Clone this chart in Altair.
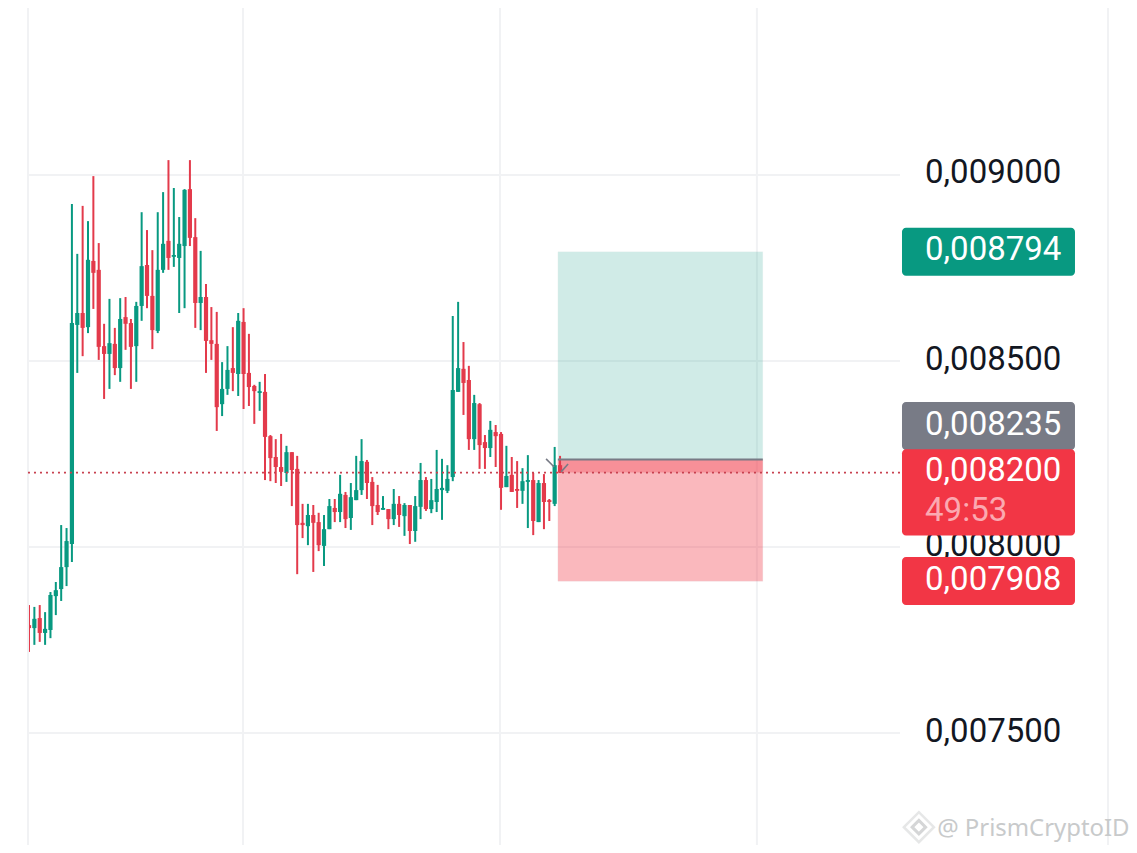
import altair as alt
import pandas as pd

# prices in millionths (8200 = 0,008200)
opens = [7790,7782,7809,7769,7777,7868,7887,7946,8008,8597,8629,8591,8769,8745,8540,8519,8546,8481,8618,8602,
         8540,8648,8758,8675,8581,8745,8823,8780,8777,8809,8962,8833,8656,8672,8556,8546,8384,8425,8481,8465,
         8605,8468,8433,8414,8417,8298,8242,8215,8199,8255,8210,8065,8056,8086,8067,8003,8048,8105,8094,8140,
         8078,8126,8153,8229,8175,8113,8100,8102,8075,8116,8083,8113,8043,8108,8180,8102,8121,8153,8151,8188,
         8417,8479,8449,8290,8384,8282,8266,8309,8304,8161,8194,8156,8151,8175,8180,8067,8172,8126,8116,8220]
closes = [7782,7807,7769,7780,7871,7884,7946,8016,8602,8629,8589,8772,8737,8538,8519,8548,8481,8613,8600,8538,
          8648,8755,8675,8583,8745,8815,8777,8785,8815,8960,8831,8656,8672,8554,8546,8376,8425,8476,8468,8608,
          8465,8430,8419,8419,8296,8239,8215,8202,8255,8207,8059,8059,8086,8065,8005,8048,8110,8094,8143,8075,
          8134,8153,8231,8172,8110,8094,8105,8075,8116,8086,8113,8043,8110,8180,8102,8126,8156,8159,8183,8422,
          8481,8441,8290,8387,8274,8266,8315,8298,8159,8191,8148,8151,8177,8180,8070,8172,8121,8121,8220,8200]
highs = [7844,7839,7844,7825,7879,7906,8059,8051,8922,8788,8917,8876,8997,8817,8600,8667,8589,8669,8672,8613,
         8659,8900,8852,8798,8900,8954,9040,8965,8887,8962,9040,8884,8796,8707,8645,8632,8497,8540,8591,8629,
         8642,8573,8436,8444,8465,8301,8290,8304,8272,8255,8245,8116,8116,8113,8092,8086,8129,8129,8194,8148,
         8172,8245,8290,8234,8188,8167,8137,8102,8156,8137,8118,8113,8137,8226,8188,8183,8261,8237,8220,8621,
         8659,8551,8487,8409,8387,8301,8339,8328,8309,8272,8242,8231,8212,8247,8199,8180,8196,8129,8269,8245]
lows = [7718,7737,7745,7737,7755,7817,7855,7895,7960,8468,8513,8575,8640,8503,8398,8425,8462,8444,8530,8425,
        8444,8608,8642,8532,8575,8737,8745,8753,8629,8642,8809,8589,8583,8468,8503,8312,8352,8409,8419,8406,
        8371,8379,8331,8366,8180,8177,8172,8164,8175,8110,7927,8024,8005,7933,7989,7949,8048,8067,8067,8051,
        8046,8126,8140,8129,8059,8086,8100,8048,8059,8054,8030,8008,8014,8075,8097,8091,8094,8073,8145,8177,
        8417,8355,8261,8261,8210,8210,8242,8215,8100,8161,8148,8105,8116,8051,8032,8067,8048,8070,8110,8199]

grid_prices = [9000, 8500, 8000, 7500]
grid_labels = ["0,009000", "0,008500", "0,008000", "0,007500"]
grid_times = [-0.19, 39.9, 87.8, 135.7, 201.15]

tp_price, entry_price, last_price, sl_price = 8794, 8235, 8200, 7908
tag_low = [8729, 8261, 8031, 7844]
tag_high = [8858, 8390, 8263, 7973]
tag_colors = ["#089981", "#787B86", "#F23645", "#F23645"]
tag_labels = ["0,008794", "0,008235", "0,008200", "0,007908"]
tag_text_y = [8794, 8325, 8200, 7908]

UP, DOWN, GRID = "#089981", "#E33A4B", "#F1F2F4"
X_DOM = [-3.915, 205.07]
Y_DOM = [7199.0, 9448.9]
xs = alt.Scale(domain=X_DOM, nice=False, zero=False)
ys = alt.Scale(domain=Y_DOM, nice=False, zero=False)
X = lambda f="x": alt.X(f"{f}:Q", scale=xs, axis=None)
Y = lambda f="y": alt.Y(f"{f}:Q", scale=ys, axis=None)
AXIS_L, PANE_R, LABEL_X = -0.19, 162.38, 167.05
BOX_L, BOX_R = 98.6, 136.8
TAG_L, TAG_R = 162.75, 195.0
TEXT_DY, TEXT_SIZE = -1.5, 33

candles = pd.DataFrame({"i": range(len(opens)), "o": opens, "c": closes, "h": highs, "l": lows})
candles["col"] = [UP if c >= o else DOWN for o, c in zip(opens, closes)]

vgrid = alt.Chart(pd.DataFrame({"x": grid_times})).mark_rule(color=GRID, strokeWidth=2).encode(x=X())
hgrid = alt.Chart(pd.DataFrame({"y": grid_prices, "a": AXIS_L, "b": PANE_R})).mark_rule(color=GRID, strokeWidth=2).encode(
    x=X("a"), x2="b:Q", y=Y())

box_df = pd.DataFrame({"a": [BOX_L, BOX_L, BOX_L], "b": [BOX_R, BOX_R, BOX_R],
                       "lo": [entry_price, sl_price, last_price], "hi": [tp_price, entry_price, entry_price],
                       "col": ["#089981", "#F23645", "#F23645"], "op": [0.185, 0.35, 0.3]})
boxes = alt.Chart(box_df).mark_rect(stroke="#999999", strokeWidth=0.5, strokeOpacity=0.3).encode(
    x=X("a"), x2="b:Q", y=Y("lo"), y2="hi:Q",
    color=alt.Color("col:N", scale=None), opacity=alt.Opacity("op:Q", scale=None))
entry_line = alt.Chart(pd.DataFrame({"a": [BOX_L], "b": [BOX_R], "y": [entry_price]})).mark_rule(
    color="#787B86", strokeWidth=2).encode(x=X("a"), x2="b:Q", y=Y())

wicks = alt.Chart(candles).mark_rule(strokeWidth=2).encode(
    x=X("i"), y=Y("l"), y2="h:Q", color=alt.Color("col:N", scale=None))
bodies = alt.Chart(candles).mark_rule(strokeWidth=4.2).encode(
    x=X("i"), y=Y("o"), y2="c:Q", color=alt.Color("col:N", scale=None))

mask = alt.Chart(pd.DataFrame({"a": [X_DOM[0]], "b": [AXIS_L - 0.1], "lo": [Y_DOM[0]], "hi": [Y_DOM[1]]})).mark_rect(
    color="white").encode(x=X("a"), x2="b:Q", y=Y("lo"), y2="hi:Q")
edge = alt.Chart(pd.DataFrame({"x": [AXIS_L]})).mark_rule(color=GRID, strokeWidth=2).encode(x=X())

last_line = alt.Chart(pd.DataFrame({"a": [AXIS_L], "b": [PANE_R], "y": [last_price]})).mark_rule(
    color="#C8404F", strokeWidth=1.6, strokeDash=[2, 4]).encode(x=X("a"), x2="b:Q", y=Y())

arrow = alt.Chart(pd.DataFrame({"x": [96.4, 97.9, 99.2, 100.5], "y": [8237, 8215, 8202, 8223], "g": ["a", "a", "b", "b"]})).mark_line(
    color="#787B86", strokeWidth=1.6).encode(x=X(), y=Y(), detail="g:N")

axis_text = alt.Chart(pd.DataFrame({"y": grid_prices, "t": grid_labels, "x": LABEL_X})).mark_text(
    font="Roboto", fontSize=TEXT_SIZE, align="left", baseline="middle", dy=TEXT_DY, color="#131722").encode(x=X(), y=Y(), text="t:N")

tags = alt.Chart(pd.DataFrame({"a": TAG_L, "b": TAG_R, "lo": tag_low, "hi": tag_high, "col": tag_colors})).mark_bar(
    cornerRadius=4).encode(x=X("a"), x2="b:Q", y=Y("lo"), y2="hi:Q", color=alt.Color("col:N", scale=None))
tag_text = alt.Chart(pd.DataFrame({"y": tag_text_y, "t": tag_labels, "x": LABEL_X})).mark_text(
    font="Roboto", fontSize=TEXT_SIZE, align="left", baseline="middle", dy=TEXT_DY, color="white").encode(x=X(), y=Y(), text="t:N")
countdown = alt.Chart(pd.DataFrame({"y": [8094], "t": ["49:53"], "x": [LABEL_X]})).mark_text(
    font="Roboto", fontSize=TEXT_SIZE, align="left", baseline="middle", dy=TEXT_DY, color="#FBA9B1").encode(x=X(), y=Y(), text="t:N")

watermark = alt.Chart(pd.DataFrame({"y": [7243], "t": ["@ PrismCryptoID"], "x": [169.3]})).mark_text(
    font="Noto Sans", fontSize=23.9, align="left", baseline="middle", color="#C8CACB").encode(x=X(), y=Y(), text="t:N")
logo_outer = alt.Chart(pd.DataFrame({"x": [165.9], "y": [7247]})).mark_point(
    shape="diamond", size=900, filled=False, color="#DCDDDE", strokeWidth=2.5).encode(x=X(), y=Y())
logo_inner = alt.Chart(pd.DataFrame({"x": [165.9], "y": [7247]})).mark_point(
    shape="diamond", size=180, filled=False, color="#D5D6D7", strokeWidth=3, opacity=1).encode(x=X(), y=Y())

chart = alt.layer(
    vgrid, hgrid, boxes, wicks, bodies, mask, edge, entry_line, last_line, arrow,
    axis_text, tags, tag_text, countdown, logo_outer, logo_inner, watermark
).properties(
    width=1121, height=837, padding=0, background="white", autosize=alt.AutoSizeParams(type="none")
).configure_view(stroke=None)

chart.save("out.html", embed_options={"renderer": "svg", "actions": False})
